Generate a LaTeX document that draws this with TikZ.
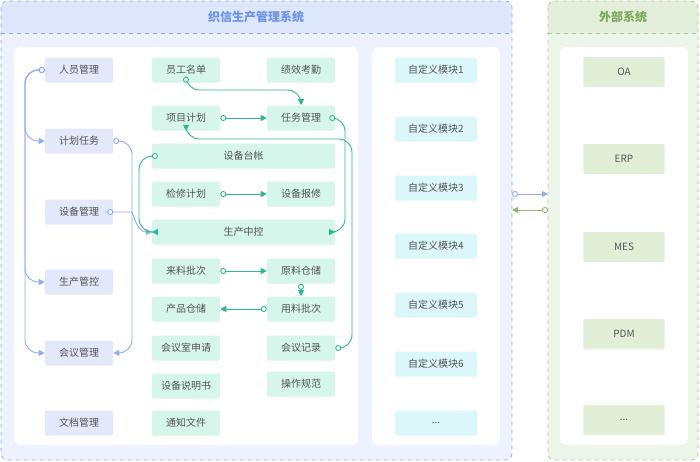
\documentclass[tikz,border=0pt]{standalone}
\usepackage{fontspec}
\setmainfont{Noto Sans CJK SC}
\usetikzlibrary{arrows.meta}
\definecolor{bhead}{HTML}{DFE7FD}
\definecolor{bbody}{HTML}{EEF2FE}
\definecolor{bdash}{HTML}{8EABF2}
\definecolor{ghead}{HTML}{E3EEDB}
\definecolor{gbody}{HTML}{EEF5EA}
\definecolor{gdash}{HTML}{A9C995}
\definecolor{lav}{HTML}{E3E8FB}
\definecolor{mint}{HTML}{D6F5EB}
\definecolor{cyanb}{HTML}{DBF7FA}
\definecolor{grnb}{HTML}{E0EFD6}
\definecolor{txt}{HTML}{555555}
\definecolor{bline}{HTML}{8EAEF0}
\definecolor{gline}{HTML}{2DB892}
\definecolor{gline2}{HTML}{8DBA70}
\definecolor{btitle}{HTML}{6B93E8}
\definecolor{gtitle}{HTML}{7AAB5A}
\begin{document}
\begin{tikzpicture}[x=0.75pt,y=-0.75pt,
  box/.style={inner sep=0pt,minimum height=18.75pt,minimum width=51pt,text=txt,font=\fontsize{7.5}{9}\selectfont,rounded corners=1.5pt},
  lbox/.style={box,fill=lav},
  mbox/.style={box,fill=mint},
  cbox/.style={box,fill=cyanb,minimum width=61.5pt},
  ebox/.style={box,fill=grnb,minimum width=61pt,minimum height=22.5pt},
  tips/.style={{Circle[open,length=4.5pt,width=4.5pt,fill=white]}-{Triangle[length=4.5pt,width=4.5pt]}},
  bl/.style={draw=bline,line width=0.7pt,rounded corners=10pt,tips},
  gl/.style={draw=gline,line width=0.7pt,rounded corners=10pt,tips},
  gl2/.style={draw=gline2,line width=0.7pt,tips},
]
\useasboundingbox (0,0) rectangle (700,461);
% blue container
\fill[bbody,rounded corners=5pt] (1,1) rectangle (512,460);
\fill[bhead,rounded corners=5pt] (1,1) rectangle (512,33);
\fill[bhead] (1,20) rectangle (512,33);
\draw[bdash,dashed,line width=0.6pt,rounded corners=5pt] (1,1) rectangle (512,460);
\draw[bdash,dashed,line width=0.6pt] (1,33) -- (512,33);
\node[text=btitle,font=\fontsize{9}{11}\selectfont\bfseries] (t1) at (256,17) {织信生产管理系统};
\fill[white,rounded corners=5pt] (14,47) rectangle (358,445);
\fill[white,rounded corners=5pt] (372,47) rectangle (500,445);
% green container
\fill[gbody,rounded corners=5pt] (548,1) rectangle (698,460);
\fill[ghead,rounded corners=5pt] (548,1) rectangle (698,33);
\fill[ghead] (548,20) rectangle (698,33);
\draw[gdash,dashed,line width=0.6pt,rounded corners=5pt] (548,1) rectangle (698,460);
\draw[gdash,dashed,line width=0.6pt] (548,33) -- (698,33);
\node[text=gtitle,font=\fontsize{9}{11}\selectfont\bfseries] (t2) at (623,17) {外部系统};
\fill[white,rounded corners=5pt] (560,47) rectangle (688,445);
% left column
\node[lbox] (ry) at (79,70) {人员管理};
\node[lbox] (jh) at (79,141) {计划任务};
\node[lbox] (sb) at (79,212) {设备管理};
\node[lbox] (sc) at (79,282) {生产管控};
\node[lbox] (hy) at (79,353) {会议管理};
\node[lbox] (wd) at (79,423) {文档管理};
% middle
\node[mbox] (yg) at (186,70) {员工名单};
\node[mbox] (xm) at (186,118) {项目计划};
\node[mbox,minimum width=137pt] (tz) at (243.5,156) {设备台帐};
\node[mbox] (jx) at (186,194) {检修计划};
\node[mbox,minimum width=137pt] (zk) at (243.5,232) {生产中控};
\node[mbox] (ll) at (186,271) {来料批次};
\node[mbox] (cp) at (186,309) {产品仓储};
\node[mbox] (hys) at (186,348) {会议室申请};
\node[mbox] (sm) at (186,386) {设备说明书};
\node[mbox] (tzw) at (186,423) {通知文件};
% right
\node[mbox] (jk) at (301,70) {绩效考勤};
\node[mbox] (rw) at (301,118) {任务管理};
\node[mbox] (bx) at (301,194) {设备报修};
\node[mbox] (yl) at (301,271) {原料仓储};
\node[mbox] (yy) at (301,309) {用料批次};
\node[mbox] (jl) at (301,348) {会议记录};
\node[mbox] (gf) at (301,384) {操作规范};
% custom
\node[cbox] (m1) at (436,70) {自定义模块1};
\node[cbox] (m2) at (436,129) {自定义模块2};
\node[cbox] (m3) at (436,188) {自定义模块3};
\node[cbox] (m4) at (436,246) {自定义模块4};
\node[cbox] (m5) at (436,305) {自定义模块5};
\node[cbox] (m6) at (436,364) {自定义模块6};
\node[cbox] (m7) at (436,423) {...};
% external
\node[ebox] (oa) at (624,72) {OA};
\node[ebox] (erp) at (624,159) {ERP};
\node[ebox] (mes) at (624,247) {MES};
\node[ebox] (pdm) at (624,334) {PDM};
\node[ebox] (eo) at (624,420) {...};
% helper coordinates
\coordinate (xl) at (25,0);
\coordinate (xr) at (132,0);
\coordinate (xt) at (139,0);
\coordinate (xq) at (345,0);
\coordinate (xw) at (352,0);
\coordinate (y1) at (0,90);
\coordinate (y2) at (0,139);
% blue connectors
\draw[bl] (ry.west) -- (ry.west -| xl) -- (jh.west -| xl) -- (jh.west);
\draw[bl] (ry.west) -- (ry.west -| xl) -- (sc.west -| xl) -- (sc.west);
\draw[bl] (ry.west) -- (ry.west -| xl) -- (hy.west -| xl) -- (hy.west);
\draw[bl] (jh.east) -- (jh.east -| xr) -- (hy.east -| xr) -- (hy.east);
\draw[bl] (sb.east) -- (118,212) to[out=0,in=180] (zk.west);
% green connectors
\draw[gl] (yg.south) -- (yg.south |- y1) -- (rw.north |- y1) -- (rw.north);
\draw[gl] (xm.east) -- (rw.west);
\draw[gl] (rw.east) -- (rw.east -| xq) -- (zk.east -| xq) -- (zk.east);
\draw[gl] (jl.east) -- (jl.east -| xw) -- (xw |- y2) -- (xm.south |- y2) -- (xm.south);
\draw[gl] (tz.west) -- (tz.west -| xt) -- (zk.west -| xt) -- (zk.west);
\draw[gl] (jx.east) -- (bx.west);
\draw[gl] (ll.east) -- (yl.west);
\draw[gl] (yl.south) -- (yy.north);
\draw[gl] (yy.west) -- (cp.east);
% between systems
\coordinate (a1) at (512,194);
\coordinate (a2) at (548,194);
\coordinate (b1) at (548,210);
\coordinate (b2) at (512,210);
\draw[bl,rounded corners=0pt] (a1) -- (a2);
\draw[gl2] (b1) -- (b2);
\end{tikzpicture}
\end{document}
